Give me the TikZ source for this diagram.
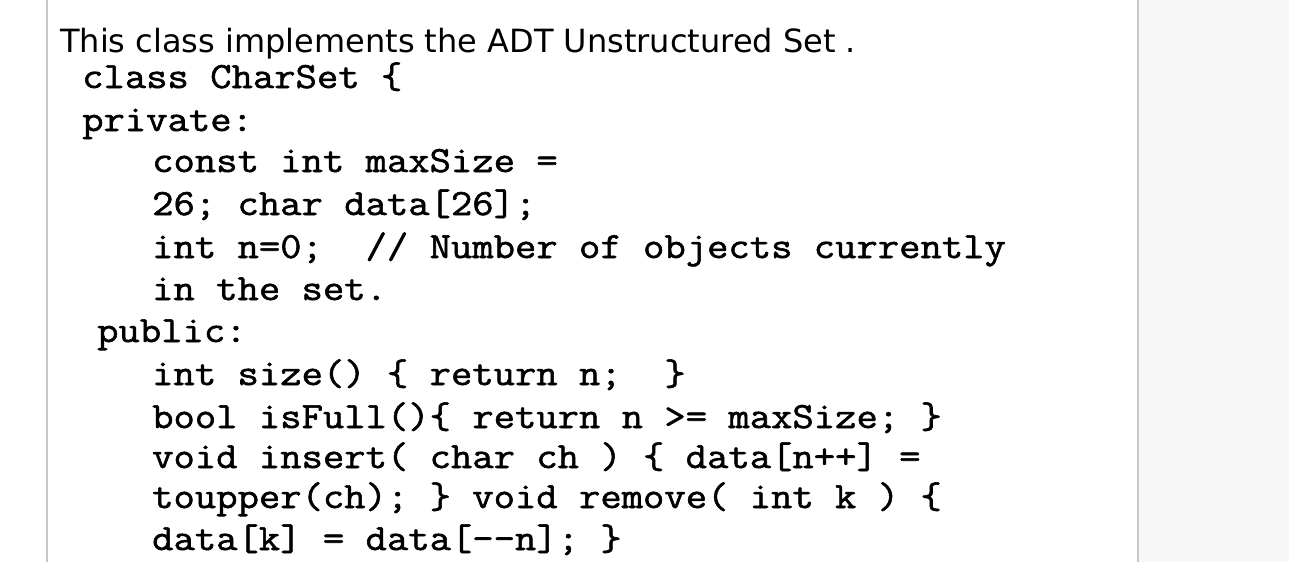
\documentclass[tikz,border=0pt]{standalone}
\usepackage{fontspec}
\setmainfont{DejaVu Sans}
\newfontfamily\codefont[FakeStretch=1.12,FakeBold=1.5]{Latin Modern Mono}
\definecolor{side}{HTML}{F7F7F8}
\definecolor{rule}{HTML}{C8C8CC}
\begin{document}
\begin{tikzpicture}[x=1pt,y=-1pt,
  code/.style={anchor=base west,inner sep=0pt,font=\codefont\fontsize{37}{37}\selectfont},
  title/.style={anchor=base west,inner sep=0pt,font=\fontsize{32}{32}\selectfont}]
\useasboundingbox (0,0) rectangle (1289,562);
\fill[side] (1138,0) rectangle (1289,562);
\draw[rule,line width=1.5pt] (47,0) -- (47,562);
\draw[rule,line width=1.5pt] (1138,0) -- (1138,562);
\node[title] (t) at (60,52) {This class implements the ADT Unstructured Set .};
\node[code] (l1) at (82,88) {class CharSet \{};
\node[code] (l2) at (82,131) {private:};
\node[code] (l3) at (152,172) {const int maxSize =};
\node[code] (l4) at (152,215) {26; char data[26];};
\node[code] (l5) at (152,258) {int n=0;\ \ // Number of objects currently};
\node[code] (l6) at (152,300) {in the set.};
\node[code] (l7) at (97,342) {public:};
\node[code] (l8) at (152,385) {int size() \{ return n;\ \ \}};
\node[code] (l9) at (152,428) {bool isFull()\{ return n >= maxSize; \}};
\node[code] (l10) at (152,468) {void insert( char ch ) \{ data[n++] =};
\node[code] (l11) at (152,508) {toupper(ch); \} void remove( int k ) \{};
\node[code] (l12) at (152,550) {data[k] = data[--n]; \}};
\end{tikzpicture}
\end{document}
